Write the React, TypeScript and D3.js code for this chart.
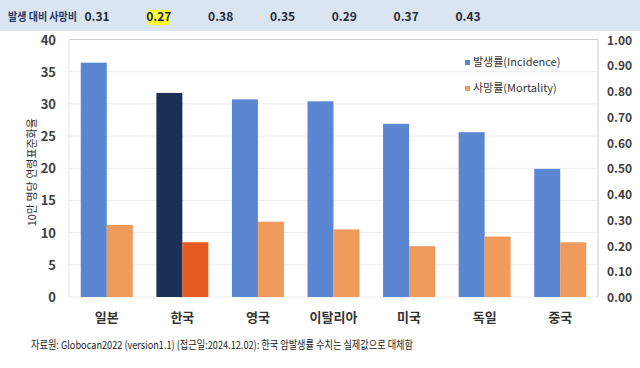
import React from 'react';
import * as d3 from 'd3';

const countries = ['일본', '한국', '영국', '이탈리아', '미국', '독일', '중국'];
const incidence = [36.4, 31.7, 30.7, 30.4, 26.9, 25.6, 19.9];
const mortality = [11.2, 8.5, 11.7, 10.5, 7.9, 9.4, 8.5];
const ratios = ['0.31', '0.27', '0.38', '0.35', '0.29', '0.37', '0.43'];
const leftTicks = [0, 5, 10, 15, 20, 25, 30, 35, 40];
const rightTicks = [0, 0.1, 0.2, 0.3, 0.4, 0.5, 0.6, 0.7, 0.8, 0.9, 1.0];
const highlight = '한국';

const W = 640;
const H = 368;
const FONT = '"Noto Sans CJK KR", "Noto Sans", sans-serif';

export default function App() {
  const left = 69;
  const right = 598;
  const top = 39.5;
  const bottom = 297;

  const x = d3.scaleBand().domain(countries).range([left, right]).padding(0);
  const y = d3.scaleLinear().domain([0, 40]).range([bottom, top]);
  const y2 = d3.scaleLinear().domain([0, 1]).range([bottom, top]);
  const hx = d3.scalePoint().domain(countries).range([97, 468]);
  const barW = 26;

  return (
    <svg width={W} height={H} style={{ position: 'absolute', left: 0, top: 0, background: '#fff' }} fontFamily={FONT}>
      {/* header band */}
      <rect x={0} y={0} width={W} height={31} fill="#dbe5f1" />
      <text x={8} y={21} fontSize={11} fontWeight={700} fill="#1f3864" textLength={69} lengthAdjust="spacingAndGlyphs">
        발생 대비 사망비
      </text>
      {countries.map((c, i) => (
        <g key={'r' + c}>
          {c === highlight && (
            <rect x={hx(c)! - 11} y={10} width={22} height={15} fill="#ffff33" />
          )}
          <text x={hx(c)} y={21} fontSize={12} fontWeight={700} fill="#1f2a3a" textAnchor="middle">
            {ratios[i]}
          </text>
        </g>
      ))}

      {/* grid */}
      {leftTicks.map(t => (
        <line key={'g' + t} x1={left} x2={right} y1={y(t)} y2={y(t)} stroke={t === 40 ? '#d0d0d0' : '#ececec'} strokeWidth={1} />
      ))}
      <line x1={left} x2={left} y1={top} y2={bottom} stroke="#e6e6e6" />
      <line x1={right} x2={right} y1={top} y2={bottom} stroke="#d0d0d0" />

      {/* left axis */}
      {leftTicks.map(t => (
        <text key={'l' + t} x={56} y={y(t) + 5} fontSize={13} fontWeight={600} fill="#404040" textAnchor="end">{t}</text>
      ))}
      <text
        transform={`translate(36, ${(top + bottom) / 2 + 4}) rotate(-90)`}
        fontSize={11}
        fill="#333"
        textAnchor="middle"
      >
        10만 명당 연령표준화율
      </text>

      {/* right axis */}
      {rightTicks.map(t => (
        <text key={'r' + t} x={607} y={y2(t) + 5} fontSize={12} fontWeight={600} fill="#404040">{t.toFixed(2)}</text>
      ))}

      {/* bars */}
      {countries.map((c, i) => {
        const cx = x(c)! + x.bandwidth() / 2;
        const hl = c === highlight;
        return (
          <g key={'b' + c}>
            <rect x={cx - barW} y={y(incidence[i])} width={barW} height={bottom - y(incidence[i])} fill={hl ? '#1c3057' : '#5b87d2'} />
            <rect x={cx} y={y(mortality[i])} width={barW} height={bottom - y(mortality[i])} fill={hl ? '#e35b20' : '#f09a5b'} />
            <text x={cx} y={322} fontSize={13} fontWeight={700} fill="#333" textAnchor="middle">{c}</text>
          </g>
        );
      })}

      {/* legend */}
      <rect x={465} y={60} width={5} height={5} fill="#5b87d2" />
      <text x={473} y={66} fontSize={11} fill="#333">발생률(Incidence)</text>
      <rect x={465} y={86} width={5} height={5} fill="#f09a5b" />
      <text x={473} y={92} fontSize={11} fill="#333">사망률(Mortality)</text>

      {/* source */}
      <text x={31} y={349} fontSize={11} fill="#222" textLength={382} lengthAdjust="spacingAndGlyphs">
        자료원: Globocan2022 (version1.1) (접근일:2024.12.02): 한국 암발생률 수치는 실제값으로 대체함
      </text>
    </svg>
  );
}
